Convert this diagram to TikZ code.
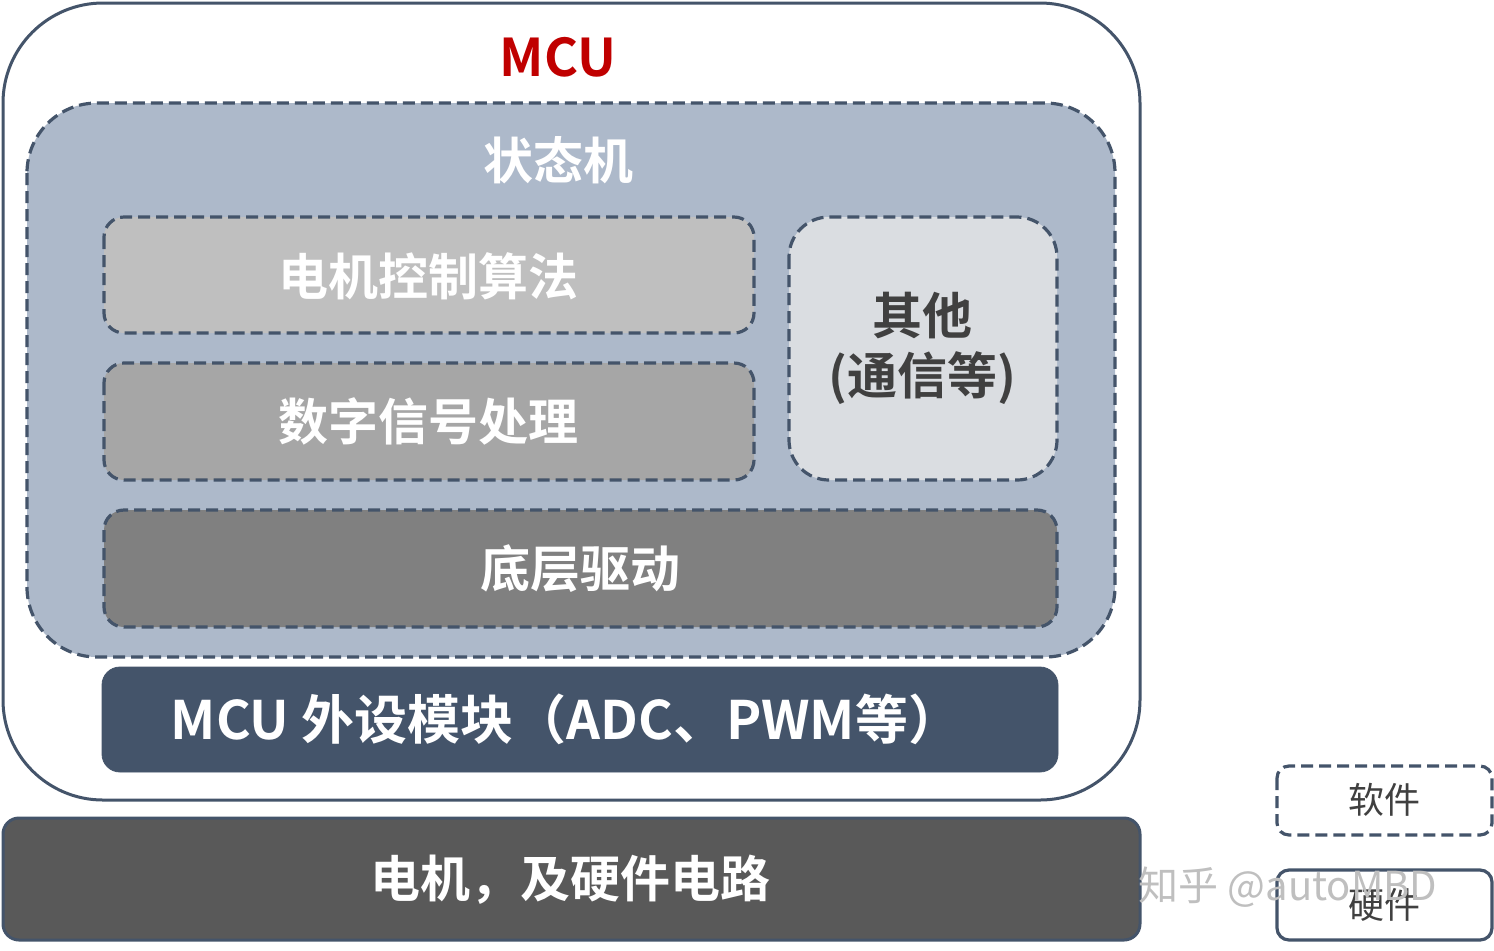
\documentclass[tikz,border=0pt]{standalone}
\usepackage{fontspec}
\setmainfont{Noto Sans CJK SC}
\newfontfamily\cjkb{Noto Sans CJK SC Bold}
\definecolor{bord}{HTML}{44546A}
\definecolor{smfill}{HTML}{ADB9CA}
\definecolor{mred}{HTML}{C00000}
\begin{document}
\begin{tikzpicture}[x=0.5pt,y=-0.5pt,
  box/.style={draw=bord,line width=1.6pt,dash pattern=on 6pt off 3pt},
  lbl/.style={font=\cjkb\fontsize{25}{30}\selectfont,text=white,align=center}]
\useasboundingbox (0,0) rectangle (1494,950);
\draw[bord,line width=1.5pt,fill=white,rounded corners=50pt] (3,3) rectangle (1140,800);
\node[font=\cjkb\fontsize{26}{30}\selectfont,text=mred] (mcu) at (558,57) {MCU};
\draw[box,fill=smfill,rounded corners=35pt] (27,103) rectangle (1115,657);
\node[lbl,font=\cjkb\fontsize{25}{28}\selectfont] (sm) at (558,160) {状态机};
\draw[box,fill=black!25,rounded corners=10pt] (104,217) rectangle (754,333);
\node[lbl] (a) at (428,276) {电机控制算法};
\draw[box,fill=black!35,rounded corners=10pt] (104,363) rectangle (754,480);
\node[lbl] (b) at (428,421) {数字信号处理};
\draw[box,fill=bord!20,rounded corners=20pt] (789,217) rectangle (1057,480);
\node[lbl,text=black!75] (c) at (922,348) {其他\\(通信等)};
\draw[box,fill=black!50,rounded corners=10pt] (104,510) rectangle (1057,627);
\node[lbl] (d) at (580,569) {底层驱动};
\draw[bord,fill=bord,rounded corners=9pt] (102,667) rectangle (1058,772);
\node[lbl,font=\cjkb\fontsize{26.5}{30}\selectfont] (e) at (566,719) {MCU 外设模块（ADC、PWM等）};
\draw[bord,line width=1.5pt,fill=black!65,rounded corners=8pt] (3,818) rectangle (1140,940);
\node[lbl] (f) at (570,880) {电机，及硬件电路};
\draw[box,fill=white,rounded corners=6pt] (1277,766) rectangle (1492,835);
\node[font=\fontsize{18}{22}\selectfont,text=black!75] (s) at (1384,800) {软件};
\draw[bord,line width=1.6pt,fill=white,rounded corners=6pt] (1277,870) rectangle (1492,940);
\node[font=\fontsize{18}{22}\selectfont,text=black!75] (h) at (1384,905) {硬件};
\node[font=\fontsize{20}{24}\selectfont,text=black!25] (w) at (1288,887) {知乎 @autoMBD};
\end{tikzpicture}
\end{document}
